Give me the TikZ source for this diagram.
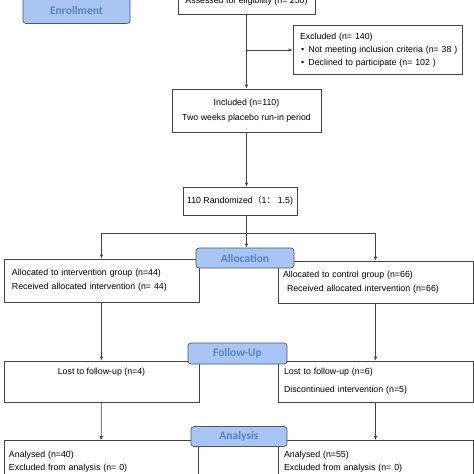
\documentclass[tikz,border=0pt]{standalone}
\usepackage{fontspec}
\setmainfont{Liberation Sans}
\newfontfamily\labfont{Carlito}
\newfontfamily\cjk{Noto Sans CJK SC}
\usetikzlibrary{arrows.meta}
\definecolor{labfill}{HTML}{A9C5F3}
\definecolor{labtext}{HTML}{5581C4}
\definecolor{labline}{HTML}{4D5866}
\definecolor{boxline}{HTML}{444444}
\begin{document}
\begin{tikzpicture}[x=1pt,y=-1pt,
	>={Latex[length=4pt,width=3.5pt]},
	box/.style={draw=boxline, line width=0.7pt, fill=white, inner sep=0pt,
		font=\fontsize{8.8}{10.5}\selectfont},
	stage/.style={draw=labline, line width=0.7pt, fill=labfill, rounded corners=3pt,
		inner sep=0pt, font=\labfont\bfseries\fontsize{11.5}{13}\selectfont, text=labtext},
	link/.style={draw=boxline, line width=0.7pt}]
				\path[use as bounding box] (0,0) rectangle (474,474);
				\clip (0,0) rectangle (474,474);
				% enrollment
				\node[box, minimum width=137, minimum height=27.4] (assess) at (246.5,0.8) {Assessed for eligibility (n= 250)};
				\node[box, minimum width=169, minimum height=49, align=left, text width=162] (excl) at (377.5,50)
					{\hspace{3.5pt}Excluded (n= 140)\\[2.5pt]
					 \hspace{4.5pt}\textbullet\enspace Not meeting inclusion criteria (n= 38 )\\[2.5pt]
					 \hspace{4.5pt}\textbullet\enspace Declined to participate (n= 102 )};
				\node[box, minimum width=149, minimum height=43, align=center] (incl) at (246.5,110.5)
					{Included (n=110)\\[4.5pt]Two weeks placebo run-in period};
				\node[box, minimum width=114, minimum height=28] (rand) at (240,201)
					{110 Randomized{\cjk （}1{\cjk ：} 1.5)};
				\coordinate (split) at (246.5,233);
				% allocation
				\node[box, minimum width=195, minimum height=43, align=left, text width=179] (intAlloc) at (101.5,280.5)
					{Allocated to intervention group (n=44)\\[3.5pt]Received allocated intervention (n= 44)};
				\node[box, minimum width=195, minimum height=42, align=left, text width=185] (ctrlAlloc) at (375.5,282)
					{Allocated to control group (n=66)\\[3.5pt]\hspace{4pt}Received allocated intervention (n=66)};
				% follow-up
				\node[box, minimum width=195, minimum height=41, align=center] (intFollow) at (101.5,381.5)
					{Lost to follow-up (n=4)\\[7.5pt]\strut};
				\node[box, minimum width=195, minimum height=41, align=left, text width=183] (ctrlFollow) at (375.5,381.5)
					{Lost to follow-up (n=6)\\[7.5pt]Discontinued intervention (n=5)};
				% analysis
				\node[box, minimum width=194, minimum height=43, align=left, text width=184] (intAnal) at (101,462)
					{Analysed (n=40)\\[2.5pt]Excluded from analysis (n= 0)};
				\node[box, minimum width=195, minimum height=43, align=left, text width=183] (ctrlAnal) at (375.5,462)
					{Analysed (n=55)\\[2.5pt]Excluded from analysis (n= 0)};
				% connectors
				\draw[link,->] (assess.south) -- (assess.south |- incl.north);
				\draw[link,->] (excl.west -| assess.south) -- (excl.west);
				\draw[link,->] (incl.south) -- (incl.south |- rand.north);
				\draw[link] (rand.south -| incl.south) -- (split);
				\draw[link,->] (split) -| (intAlloc.north);
				\draw[link,->] (split) -| (ctrlAlloc.north);
				\draw[link,->] (intAlloc) -- (intFollow);
				\draw[link,->] (ctrlAlloc) -- (ctrlFollow);
				\draw[link,->] (intFollow) -- (intAnal);
				\draw[link,->] (ctrlFollow) -- (ctrlAnal);
				% stage labels
				\node[stage, minimum width=107, minimum height=26] (enrollLab) at (76.5,10.5) {Enrollment};
				\node[stage, minimum width=98, minimum height=20] (allocLab) at (245,258) {Allocation};
				\draw[link,->] (split) -- (split |- allocLab.north);
				\node[stage, minimum width=99, minimum height=21] (followLab) at (237.5,353.5) {Follow-Up};
				\node[stage, minimum width=96, minimum height=20] (analysisLab) at (239,436.5) {Analysis};
			\end{tikzpicture}
\end{document}
